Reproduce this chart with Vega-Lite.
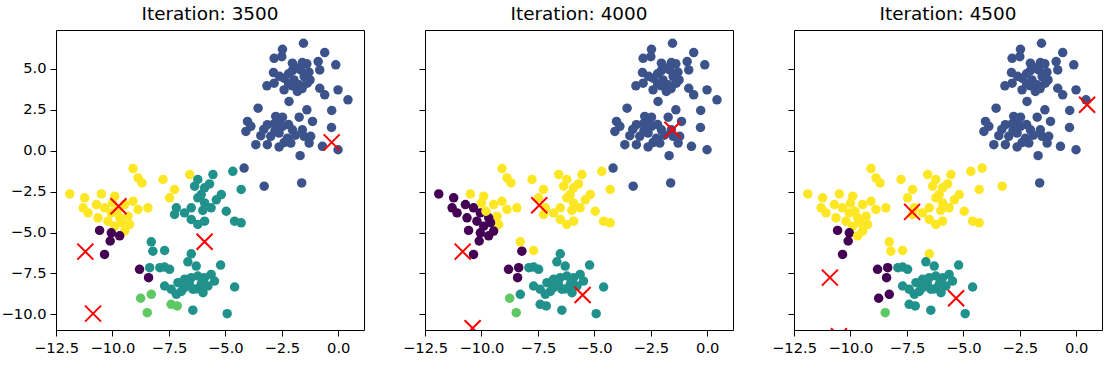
{
"$schema": "https://vega.github.io/schema/vega-lite/v6.json",
"padding": {"left": 0, "top": 4, "right": 0, "bottom": 0},
"bounds": "flush",
"spacing": 61,
"config": {
  "font": "DejaVu Sans",
  "view": {"stroke": "#000", "strokeWidth": 1},
  "axis": {"grid": false, "domain": false, "tickColor": "#000", "tickSize": 6, "labelColor": "#000", "labelFont": "DejaVu Sans", "labelFontSize": 14.7, "labelPadding": 4, "labelOverlap": false, "labelFlush": false, "title": null},
  "title": {"font": "DejaVu Sans", "fontSize": 18.4, "fontWeight": "normal", "color": "#000", "offset": 7, "anchor": "middle"}
},
"datasets": {
"pts": [
{"x":-1.54,"y":6.57,"a":1,"b":1,"c":1},{"x":-2.47,"y":6.20,"a":1,"b":1,"c":1},{"x":-0.60,"y":6.00,"a":1,"b":1,"c":1},{"x":-2.84,"y":5.65,"a":1,"b":1,"c":1},{"x":-2.50,"y":5.75,"a":1,"b":1,"c":1},{"x":-2.03,"y":5.35,"a":1,"b":1,"c":1},{"x":-1.59,"y":5.39,"a":1,"b":1,"c":1},{"x":-1.39,"y":5.31,"a":1,"b":1,"c":1},{"x":-0.89,"y":5.45,"a":1,"b":1,"c":1},{"x":-0.11,"y":5.25,"a":1,"b":1,"c":1},
{"x":-0.82,"y":4.94,"a":1,"b":1,"c":1},{"x":-2.87,"y":4.78,"a":1,"b":1,"c":1},{"x":-2.03,"y":4.90,"a":1,"b":1,"c":1},{"x":-1.66,"y":4.94,"a":1,"b":1,"c":1},{"x":-2.40,"y":4.43,"a":1,"b":1,"c":1},{"x":-1.96,"y":4.33,"a":1,"b":1,"c":1},{"x":-1.51,"y":4.53,"a":1,"b":1,"c":1},{"x":-1.25,"y":4.33,"a":1,"b":1,"c":1},{"x":-3.16,"y":3.97,"a":1,"b":1,"c":1},{"x":-2.84,"y":4.13,"a":1,"b":1,"c":1},
{"x":-2.40,"y":3.72,"a":1,"b":1,"c":1},{"x":-2.03,"y":3.97,"a":1,"b":1,"c":1},{"x":-1.73,"y":4.03,"a":1,"b":1,"c":1},{"x":-1.37,"y":4.13,"a":1,"b":1,"c":1},{"x":-0.82,"y":3.82,"a":1,"b":1,"c":1},{"x":-0.60,"y":3.42,"a":1,"b":1,"c":1},{"x":-0.01,"y":3.72,"a":1,"b":1,"c":1},{"x":0.43,"y":3.11,"a":1,"b":1,"c":1},{"x":-2.18,"y":3.01,"a":1,"b":1,"c":1},{"x":-1.81,"y":3.62,"a":1,"b":1,"c":1},
{"x":-3.55,"y":2.60,"a":1,"b":1,"c":1},{"x":-1.39,"y":2.50,"a":1,"b":1,"c":1},{"x":-0.29,"y":2.46,"a":1,"b":1,"c":1},{"x":-4.02,"y":1.79,"a":1,"b":1,"c":1},{"x":-2.77,"y":2.10,"a":1,"b":1,"c":1},{"x":-2.47,"y":2.05,"a":1,"b":1,"c":1},{"x":-1.73,"y":2.05,"a":1,"b":1,"c":1},{"x":-1.14,"y":1.79,"a":1,"b":1,"c":1},{"x":-3.14,"y":1.59,"a":1,"b":1,"c":1},{"x":-2.84,"y":1.65,"a":1,"b":1,"c":1},
{"x":-2.47,"y":1.49,"a":1,"b":1,"c":1},{"x":-4.09,"y":1.18,"a":1,"b":1,"c":1},{"x":-3.87,"y":1.49,"a":1,"b":1,"c":1},{"x":-2.03,"y":1.28,"a":1,"b":1,"c":1},{"x":-1.59,"y":1.28,"a":1,"b":1,"c":1},{"x":-0.30,"y":1.42,"a":1,"b":1,"c":1},{"x":-3.43,"y":0.92,"a":1,"b":1,"c":1},{"x":-2.99,"y":0.88,"a":1,"b":1,"c":1},{"x":-2.62,"y":1.08,"a":1,"b":1,"c":1},{"x":-2.25,"y":0.77,"a":1,"b":1,"c":1},
{"x":-1.51,"y":0.88,"a":1,"b":1,"c":1},{"x":-1.22,"y":0.88,"a":1,"b":1,"c":1},{"x":-3.65,"y":0.37,"a":1,"b":1,"c":1},{"x":-3.14,"y":0.37,"a":1,"b":1,"c":1},{"x":-2.62,"y":0.23,"a":1,"b":1,"c":1},{"x":-2.10,"y":0.47,"a":1,"b":1,"c":1},{"x":-1.29,"y":0.47,"a":1,"b":1,"c":1},{"x":-0.70,"y":0.27,"a":1,"b":1,"c":1},{"x":-0.01,"y":0.06,"a":1,"b":1,"c":1},{"x":-1.69,"y":-0.30,"a":1,"b":1,"c":1},
{"x":-2.20,"y":4.70,"a":1,"b":1,"c":1},{"x":-1.80,"y":5.05,"a":1,"b":1,"c":1},{"x":-1.30,"y":4.80,"a":1,"b":1,"c":1},{"x":-2.60,"y":4.55,"a":1,"b":1,"c":1},{"x":-2.20,"y":4.10,"a":1,"b":1,"c":1},{"x":-1.60,"y":3.80,"a":1,"b":1,"c":1},
{"x":-2.60,"y":1.80,"a":1,"b":1,"c":1},{"x":-2.20,"y":1.60,"a":1,"b":1,"c":1},{"x":-2.80,"y":1.25,"a":1,"b":1,"c":1},{"x":-1.90,"y":0.95,"a":1,"b":1,"c":1},{"x":-2.40,"y":0.50,"a":1,"b":1,"c":1},{"x":-3.30,"y":1.30,"a":1,"b":1,"c":1},
{"x":-4.17,"y":-1.06,"a":1,"b":1,"c":4},{"x":-3.28,"y":-2.17,"a":1,"b":1,"c":4},{"x":-1.62,"y":-1.97,"a":1,"b":1,"c":1},
{"x":-9.09,"y":-1.09,"a":4,"b":4,"c":4},{"x":-8.87,"y":-1.66,"a":4,"b":4,"c":4},{"x":-8.69,"y":-1.97,"a":4,"b":4,"c":4},{"x":-7.76,"y":-1.76,"a":4,"b":4,"c":4},{"x":-6.58,"y":-1.46,"a":4,"b":4,"c":4},{"x":-7.25,"y":-2.37,"a":4,"b":4,"c":4},{"x":-7.47,"y":-2.88,"a":4,"b":4,"c":4},
{"x":-11.89,"y":-2.64,"a":4,"b":0,"c":4},{"x":-11.23,"y":-2.88,"a":4,"b":0,"c":4},{"x":-10.49,"y":-2.64,"a":4,"b":4,"c":4},{"x":-9.90,"y":-2.78,"a":4,"b":4,"c":4},{"x":-11.30,"y":-3.49,"a":4,"b":0,"c":4},{"x":-11.08,"y":-3.80,"a":4,"b":0,"c":4},{"x":-10.71,"y":-3.29,"a":4,"b":0,"c":4},{"x":-10.35,"y":-3.49,"a":4,"b":0,"c":4},{"x":-10.05,"y":-3.80,"a":4,"b":0,"c":4},
{"x":-9.46,"y":-3.29,"a":4,"b":4,"c":4},{"x":-9.09,"y":-3.09,"a":4,"b":4,"c":4},{"x":-8.87,"y":-3.59,"a":4,"b":4,"c":4},{"x":-8.43,"y":-3.49,"a":4,"b":4,"c":4},{"x":-9.31,"y":-4.00,"a":4,"b":4,"c":4},{"x":-9.68,"y":-4.10,"a":4,"b":0,"c":4},{"x":-9.24,"y":-4.51,"a":4,"b":4,"c":4},{"x":-9.46,"y":-4.91,"a":4,"b":0,"c":4},{"x":-10.20,"y":-4.31,"a":4,"b":0,"c":4},{"x":-9.90,"y":-4.61,"a":4,"b":0,"c":4},{"x":-10.64,"y":-4.10,"a":4,"b":0,"c":4},
{"x":-10.00,"y":-3.20,"a":4,"b":4,"c":4},{"x":-9.80,"y":-3.70,"a":4,"b":4,"c":4},{"x":-9.60,"y":-4.40,"a":4,"b":0,"c":4},
{"x":-10.57,"y":-4.87,"a":0,"b":0,"c":0},{"x":-10.05,"y":-5.02,"a":0,"b":0,"c":0},{"x":-9.68,"y":-5.20,"a":0,"b":0,"c":4},{"x":-10.10,"y":-5.52,"a":0,"b":0,"c":0},{"x":-10.35,"y":-6.34,"a":0,"b":0,"c":0},{"x":-8.80,"y":-7.25,"a":0,"b":0,"c":0},{"x":-8.40,"y":-7.76,"a":0,"b":0,"c":0},
{"x":-4.67,"y":-1.26,"a":2,"b":4,"c":4},{"x":-5.55,"y":-1.46,"a":2,"b":4,"c":4},{"x":-6.22,"y":-1.76,"a":2,"b":4,"c":4},{"x":-6.36,"y":-2.17,"a":2,"b":4,"c":4},{"x":-5.92,"y":-2.27,"a":2,"b":4,"c":4},{"x":-5.70,"y":-2.03,"a":2,"b":4,"c":4},{"x":-5.18,"y":-2.68,"a":2,"b":4,"c":4},{"x":-4.30,"y":-2.37,"a":2,"b":4,"c":4},{"x":-6.22,"y":-2.88,"a":2,"b":4,"c":4},{"x":-5.92,"y":-3.19,"a":2,"b":4,"c":4},
{"x":-5.63,"y":-3.49,"a":2,"b":4,"c":4},{"x":-6.51,"y":-3.49,"a":2,"b":4,"c":4},{"x":-7.17,"y":-3.49,"a":2,"b":4,"c":4},{"x":-7.25,"y":-3.90,"a":2,"b":4,"c":4},{"x":-6.81,"y":-3.80,"a":2,"b":4,"c":4},{"x":-6.51,"y":-4.20,"a":2,"b":4,"c":4},{"x":-6.22,"y":-4.51,"a":2,"b":4,"c":4},{"x":-5.92,"y":-4.31,"a":2,"b":4,"c":4},{"x":-4.96,"y":-3.70,"a":2,"b":4,"c":4},{"x":-4.59,"y":-4.31,"a":2,"b":4,"c":4},{"x":-4.30,"y":-4.41,"a":2,"b":4,"c":4},{"x":-6.07,"y":-2.68,"a":2,"b":4,"c":4},
{"x":-5.40,"y":-3.00,"a":2,"b":4,"c":4},{"x":-6.00,"y":-3.65,"a":2,"b":4,"c":4},
{"x":-8.28,"y":-5.57,"a":2,"b":4,"c":4},{"x":-8.21,"y":-6.14,"a":2,"b":0,"c":4},{"x":-7.69,"y":-6.10,"a":2,"b":4,"c":4},{"x":-8.35,"y":-7.15,"a":2,"b":0,"c":0},{"x":-7.90,"y":-7.15,"a":2,"b":2,"c":2},{"x":-7.69,"y":-7.11,"a":2,"b":2,"c":2},{"x":-7.47,"y":-7.25,"a":2,"b":2,"c":2},{"x":-6.51,"y":-6.30,"a":2,"b":2,"c":4},{"x":-6.66,"y":-6.79,"a":2,"b":2,"c":2},{"x":-6.29,"y":-7.05,"a":2,"b":2,"c":2},{"x":-5.21,"y":-6.99,"a":2,"b":2,"c":2},
{"x":-6.22,"y":-7.66,"a":2,"b":2,"c":2},{"x":-6.51,"y":-7.76,"a":2,"b":2,"c":2},{"x":-6.81,"y":-7.86,"a":2,"b":2,"c":2},{"x":-7.10,"y":-8.07,"a":2,"b":2,"c":2},{"x":-5.92,"y":-7.76,"a":2,"b":2,"c":2},{"x":-5.63,"y":-7.56,"a":2,"b":2,"c":2},{"x":-5.48,"y":-7.97,"a":2,"b":2,"c":2},{"x":-5.77,"y":-8.27,"a":2,"b":2,"c":2},{"x":-6.07,"y":-8.17,"a":2,"b":2,"c":2},{"x":-6.44,"y":-8.47,"a":2,"b":2,"c":2},
{"x":-6.81,"y":-8.37,"a":2,"b":2,"c":2},{"x":-7.69,"y":-8.27,"a":2,"b":2,"c":2},{"x":-7.40,"y":-8.47,"a":2,"b":2,"c":2},{"x":-7.17,"y":-8.78,"a":2,"b":2,"c":2},{"x":-5.99,"y":-8.68,"a":2,"b":2,"c":2},{"x":-4.59,"y":-8.33,"a":2,"b":2,"c":2},{"x":-6.44,"y":-9.75,"a":2,"b":2,"c":2},{"x":-4.92,"y":-9.96,"a":2,"b":2,"c":2},
{"x":-6.00,"y":-8.00,"a":2,"b":2,"c":2},{"x":-6.60,"y":-8.10,"a":2,"b":2,"c":2},{"x":-6.30,"y":-8.45,"a":2,"b":2,"c":2},{"x":-6.95,"y":-8.60,"a":2,"b":2,"c":2},
{"x":-8.75,"y":-9.02,"a":3,"b":3,"c":0},{"x":-8.28,"y":-8.78,"a":3,"b":2,"c":0},{"x":-8.46,"y":-9.90,"a":3,"b":3,"c":3},{"x":-7.40,"y":-9.39,"a":3,"b":2,"c":2},{"x":-7.13,"y":-9.49,"a":3,"b":2,"c":2}
],
"cen": [
{"it":3500,"x":-0.29,"y":0.51},{"it":3500,"x":-9.73,"y":-3.39},{"it":3500,"x":-5.92,"y":-5.57},{"it":3500,"x":-11.20,"y":-6.17},{"it":3500,"x":-10.86,"y":-9.96},
{"it":4000,"x":-1.54,"y":1.28},{"it":4000,"x":-7.44,"y":-3.33},{"it":4000,"x":-10.83,"y":-6.17},{"it":4000,"x":-5.52,"y":-8.82},{"it":4000,"x":-10.39,"y":-10.85},
{"it":4500,"x":0.48,"y":2.81},{"it":4500,"x":-7.27,"y":-3.74},{"it":4500,"x":-10.91,"y":-7.76},{"it":4500,"x":-5.32,"y":-9.02},{"it":4500,"x":-10.51,"y":-11.34}
]
},
"hconcat": [
{"width": 308, "height": 300, "title": "Iteration: 3500",
 "layer": [
  {"data": {"name": "pts"}, "mark": {"type": "circle", "size": 90, "opacity": 1, "clip": true},
   "encoding": {
    "x": {"field": "x", "type": "quantitative", "scale": {"domain": [-12.5, 1.14], "nice": false, "zero": false}, "axis": {"values": [-12.5,-10,-7.5,-5,-2.5,0], "labelExpr": "replace(format(datum.value, '.1f'), '-', '−')"}},
    "y": {"field": "y", "type": "quantitative", "scale": {"domain": [-10.96, 7.38], "nice": false, "zero": false}, "axis": {"values": [-10,-7.5,-5,-2.5,0,2.5,5], "labelExpr": "replace(format(datum.value, '.1f'), '-', '−')"}},
    "color": {"field": "a", "type": "nominal", "scale": {"domain": [0,1,2,3,4], "range": ["#440154","#3b528b","#21918c","#5ec962","#fde725"]}, "legend": null}}},
  {"data": {"name": "cen"}, "transform": [{"filter": "datum.it == 3500"}],
   "mark": {"type": "point", "shape": "M-1,-1L1,1M-1,1L1,-1", "filled": false, "color": "#ff0000", "strokeWidth": 2, "size": 256, "opacity": 1, "clip": true},
   "encoding": {"x": {"field": "x", "type": "quantitative"}, "y": {"field": "y", "type": "quantitative"}}}
 ]},
{"width": 308, "height": 300, "title": "Iteration: 4000",
 "layer": [
  {"data": {"name": "pts"}, "mark": {"type": "circle", "size": 90, "opacity": 1, "clip": true},
   "encoding": {
    "x": {"field": "x", "type": "quantitative", "scale": {"domain": [-12.5, 1.14], "nice": false, "zero": false}, "axis": {"values": [-12.5,-10,-7.5,-5,-2.5,0], "labelExpr": "replace(format(datum.value, '.1f'), '-', '−')"}},
    "y": {"field": "y", "type": "quantitative", "scale": {"domain": [-10.96, 7.38], "nice": false, "zero": false}, "axis": {"values": [-10,-7.5,-5,-2.5,0,2.5,5], "labels": false}},
    "color": {"field": "b", "type": "nominal", "scale": {"domain": [0,1,2,3,4], "range": ["#440154","#3b528b","#21918c","#5ec962","#fde725"]}, "legend": null}}},
  {"data": {"name": "cen"}, "transform": [{"filter": "datum.it == 4000"}],
   "mark": {"type": "point", "shape": "M-1,-1L1,1M-1,1L1,-1", "filled": false, "color": "#ff0000", "strokeWidth": 2, "size": 256, "opacity": 1, "clip": true},
   "encoding": {"x": {"field": "x", "type": "quantitative"}, "y": {"field": "y", "type": "quantitative"}}}
 ]},
{"width": 308, "height": 300, "title": "Iteration: 4500",
 "layer": [
  {"data": {"name": "pts"}, "mark": {"type": "circle", "size": 90, "opacity": 1, "clip": true},
   "encoding": {
    "x": {"field": "x", "type": "quantitative", "scale": {"domain": [-12.5, 1.14], "nice": false, "zero": false}, "axis": {"values": [-12.5,-10,-7.5,-5,-2.5,0], "labelExpr": "replace(format(datum.value, '.1f'), '-', '−')"}},
    "y": {"field": "y", "type": "quantitative", "scale": {"domain": [-10.96, 7.38], "nice": false, "zero": false}, "axis": {"values": [-10,-7.5,-5,-2.5,0,2.5,5], "labels": false}},
    "color": {"field": "c", "type": "nominal", "scale": {"domain": [0,1,2,3,4], "range": ["#440154","#3b528b","#21918c","#5ec962","#fde725"]}, "legend": null}}},
  {"data": {"name": "cen"}, "transform": [{"filter": "datum.it == 4500"}],
   "mark": {"type": "point", "shape": "M-1,-1L1,1M-1,1L1,-1", "filled": false, "color": "#ff0000", "strokeWidth": 2, "size": 256, "opacity": 1, "clip": true},
   "encoding": {"x": {"field": "x", "type": "quantitative"}, "y": {"field": "y", "type": "quantitative"}}}
 ]}
]
}
